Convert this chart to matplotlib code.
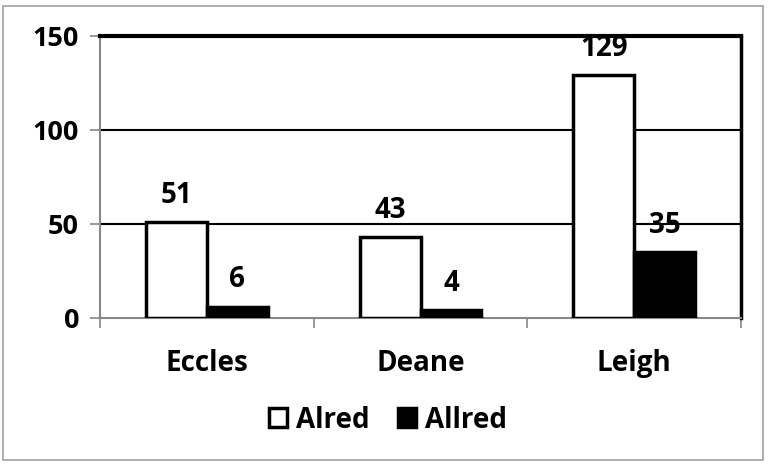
import matplotlib
matplotlib.use("Agg")
import matplotlib.pyplot as plt
from matplotlib.patches import Rectangle, Patch
import numpy as np

categories = ["Eccles", "Deane", "Leigh"]
alred = [51, 43, 129]
allred = [6, 4, 35]
series_names = ["Alred", "Allred"]
yticks = [0, 50, 100, 150]

plt.rcParams['font.family'] = ['Open Sans', 'DejaVu Sans']
plt.rcParams['font.weight'] = 'bold'

fig = plt.figure(figsize=(7.68, 4.66), dpi=100)
ax = fig.add_axes([100/768, 1-318/466, 641/768, 282/466])

x = np.arange(len(categories))
w = 0.285
b1 = ax.bar(x - w/2, alred, w, color="white", edgecolor="black", linewidth=2.5, zorder=3, label=series_names[0])
b2 = ax.bar(x + w/2, allred, w, color="black", edgecolor="black", linewidth=2.5, zorder=3, label=series_names[1])

for bars, vals in ((b1, alred), (b2, allred)):
    for r, v in zip(bars, vals):
        ax.annotate(str(v), (r.get_x() + r.get_width()/2, v), xytext=(0, 9),
                    textcoords="offset points", ha="center", va="bottom",
                    fontsize=20, fontweight="bold")

ax.set_xlim(-0.5, len(categories) - 0.5)
ax.set_ylim(0, 150)
ax.set_yticks(yticks)
ax.set_yticklabels([str(t) for t in yticks], fontsize=19.5, fontweight="bold")
for t in [50, 100]:
    ax.axhline(t, color="black", linewidth=1.5, zorder=1)

ax.set_xticks(np.arange(-0.5, len(categories), 1.0))
ax.set_xticklabels([])
ax.set_xticks(x, minor=True)
ax.set_xticklabels(categories, minor=True, fontsize=20, fontweight="bold")
ax.tick_params(axis="x", which="minor", length=0, pad=22)
ax.tick_params(axis="x", which="major", length=7, color="#888888", width=1.2)
ax.tick_params(axis="y", length=7, color="#888888", width=1.2, pad=8)

ax.spines["left"].set_color("#888888")
ax.spines["bottom"].set_color("#888888")
ax.spines["left"].set_linewidth(1.5)
ax.spines["bottom"].set_linewidth(1.5)
ax.spines["top"].set_color("black")
ax.spines["top"].set_linewidth(3)
ax.spines["right"].set_color("black")
ax.spines["right"].set_linewidth(2.5)

handles = [Patch(facecolor="white", edgecolor="black", linewidth=2.5),
           Patch(facecolor="black", edgecolor="black", linewidth=2.5)]
fig.legend(handles, series_names, loc="center", bbox_to_anchor=(388/768, 1-420/466),
           ncol=2, frameon=False, prop={"size": 20, "weight": "bold"},
           handlelength=0.65, handleheight=0.65, handletextpad=0.35, columnspacing=1.0)

fig.patches.append(Rectangle((3/768, 6/466), 760/768, 454/466, transform=fig.transFigure,
                             fill=False, edgecolor="#a0a0a0", linewidth=1.2))

fig.savefig("out.png", dpi=100)
